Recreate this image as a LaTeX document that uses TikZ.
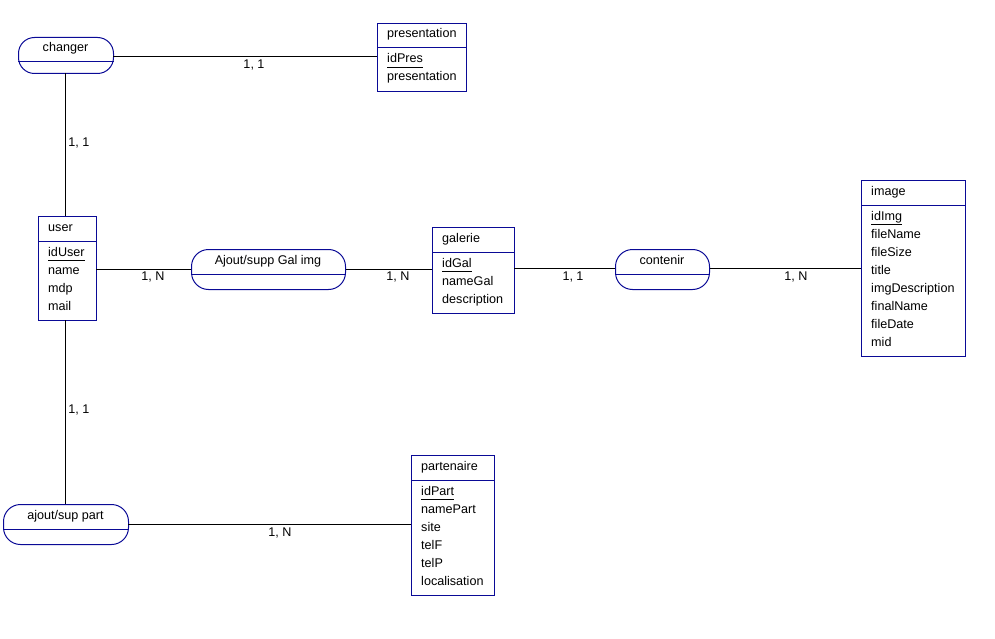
\documentclass[tikz,border=0pt]{standalone}
\usepackage{fontspec}
\setmainfont{Liberation Sans}
\definecolor{eblue}{RGB}{10,10,150}
\begin{document}
\begin{tikzpicture}[x=1pt,y=-1pt,
  ent/.style={draw=eblue, line width=1pt, anchor=north west, inner sep=0pt},
  rel/.style={draw=eblue, line width=1pt, anchor=north west, inner sep=0pt, rounded corners=17pt},
  sep/.style={draw=eblue, line width=1pt},
  txt/.style={anchor=base west, inner sep=0pt, font=\fontsize{12.6}{14}\selectfont},
  rtxt/.style={anchor=base, inner sep=0pt, font=\fontsize{12.6}{14}\selectfont},
  card/.style={anchor=base, inner sep=0pt, font=\fontsize{12.6}{14}\selectfont},
  conn/.style={draw=black, line width=1pt},
  uline/.style={draw=black, line width=0.9pt}]
\useasboundingbox (0,0) rectangle (995,639);

% ---------- entities ----------
% presentation
\node[ent, minimum width=89pt, minimum height=68pt] (pres) at (377,23) {};
\draw[sep] (pres.west |- 0,48) -- (pres.east |- 0,48);
\node[txt] (presT) at (387,38) {presentation};
\node[txt] (presK) at (387,63) {idPres};
\node[txt] (presA) at (387,81) {presentation};
\draw[uline] ([yshift=-4.5pt]presK.base west) -- ([yshift=-4.5pt]presK.base east);

% user
\node[ent, minimum width=58pt, minimum height=104pt] (user) at (38,216) {};
\draw[sep] (user.west |- 0,241) -- (user.east |- 0,241);
\node[txt] (userT) at (48,231) {user};
\node[txt] (userK) at (48,256) {idUser};
\node[txt] (userA) at (48,274) {name};
\node[txt] (userB) at (48,292) {mdp};
\node[txt] (userC) at (48,310) {mail};
\draw[uline] ([yshift=-4.5pt]userK.base west) -- ([yshift=-4.5pt]userK.base east);

% galerie
\node[ent, minimum width=82pt, minimum height=86pt] (gal) at (432,227) {};
\draw[sep] (gal.west |- 0,252) -- (gal.east |- 0,252);
\node[txt] (galT) at (442,242) {galerie};
\node[txt] (galK) at (442,267) {idGal};
\node[txt] (galA) at (442,285) {nameGal};
\node[txt] (galB) at (442,303) {description};
\draw[uline] ([yshift=-4.5pt]galK.base west) -- ([yshift=-4.5pt]galK.base east);

% image
\node[ent, minimum width=104pt, minimum height=176pt] (img) at (861,180) {};
\draw[sep] (img.west |- 0,205) -- (img.east |- 0,205);
\node[txt] (imgT) at (871,195) {image};
\node[txt] (imgK) at (871,220) {idImg};
\node[txt] (imgA) at (871,238) {fileName};
\node[txt] (imgB) at (871,256) {fileSize};
\node[txt] (imgC) at (871,274) {title};
\node[txt] (imgD) at (871,292) {imgDescription};
\node[txt] (imgE) at (871,310) {finalName};
\node[txt] (imgF) at (871,328) {fileDate};
\node[txt] (imgG) at (871,346) {mid};
\draw[uline] ([yshift=-4.5pt]imgK.base west) -- ([yshift=-4.5pt]imgK.base east);

% partenaire
\node[ent, minimum width=83pt, minimum height=140pt] (part) at (411,455) {};
\draw[sep] (part.west |- 0,480) -- (part.east |- 0,480);
\node[txt] (partT) at (421,470) {partenaire};
\node[txt] (partK) at (421,495) {idPart};
\node[txt] (partA) at (421,513) {namePart};
\node[txt] (partB) at (421,531) {site};
\node[txt] (partC) at (421,549) {telF};
\node[txt] (partD) at (421,567) {telP};
\node[txt] (partE) at (421,585) {localisation};
\draw[uline] ([yshift=-4.5pt]partK.base west) -- ([yshift=-4.5pt]partK.base east);

% ---------- relationships ----------
\node[rel, minimum width=95pt, minimum height=36pt, rounded corners=16pt] (chg) at (18,37) {};
\draw[sep] (chg.west |- 0,62) -- (chg.east |- 0,62);
\node[rtxt] (chgT) at (65.5,52) {changer};

\node[rel, minimum width=154pt, minimum height=40pt] (ajg) at (191,249) {};
\draw[sep] (ajg.west |- 0,274) -- (ajg.east |- 0,274);
\node[rtxt] (ajgT) at (268,264) {Ajout/supp Gal img};

\node[rel, minimum width=94pt, minimum height=40pt] (cont) at (615,249) {};
\draw[sep] (cont.west |- 0,274) -- (cont.east |- 0,274);
\node[rtxt] (contT) at (662,264) {contenir};

\node[rel, minimum width=125pt, minimum height=40pt] (ajp) at (3,504) {};
\draw[sep] (ajp.west |- 0,529) -- (ajp.east |- 0,529);
\node[rtxt] (ajpT) at (65.5,519) {ajout/sup part};

% ---------- connectors ----------
\coordinate (c1) at (113,57);
\draw[conn] (c1) -- (c1 -| pres.west);
\coordinate (c2) at (65,73);
\draw[conn] (c2) -- (c2 |- user.north);
\coordinate (c3) at (65,320);
\draw[conn] (c3) -- (c3 |- ajp.north);
\coordinate (c4) at (96,269);
\draw[conn] (c4) -- (c4 -| ajg.west);
\draw[conn] (ajg.east |- c4) -- (c4 -| gal.west);
\coordinate (c5) at (514,268);
\draw[conn] (c5) -- (c5 -| cont.west);
\draw[conn] (cont.east |- c5) -- (c5 -| img.west);
\coordinate (c6) at (128,524);
\draw[conn] (c6) -- (c6 -| part.west);

% ---------- cardinalities ----------
\node[card] (k1) at (254,69) {1, 1};
\node[card] (k2) at (79,147) {1, 1};
\node[card] (k3) at (79,413) {1, 1};
\node[card] (k4) at (153,280) {1, N};
\node[card] (k5) at (398,280) {1, N};
\node[card] (k6) at (573,280) {1, 1};
\node[card] (k7) at (796,280) {1, N};
\node[card] (k8) at (280,536) {1, N};
\end{tikzpicture}
\end{document}
